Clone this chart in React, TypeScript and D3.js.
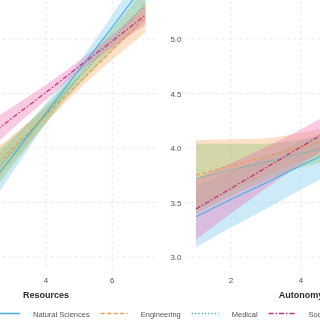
import React, { useRef, useEffect } from "react";
import * as d3 from "d3";

// predictor values the fits are evaluated at (1-7 scale)
const xValues = [1, 2, 3, 4, 5, 6, 7];

const groups = ["Natural Sciences", "Engineering", "Medical", "Social Sciences"];

// fitted outcome by group, Resources panel
const resourcesFit: number[][] = [
  [3.14, 3.54, 3.93, 4.32, 4.72, 5.11, 5.51],
  [3.40, 3.70, 4.00, 4.30, 4.60, 4.90, 5.20],
  [3.30, 3.64, 3.97, 4.31, 4.65, 4.99, 5.32],
  [3.81, 4.04, 4.28, 4.51, 4.75, 4.98, 5.22],
];
// half width of the confidence band, Resources panel
const resourcesCI: number[][] = [
  [0.30, 0.22, 0.15, 0.09, 0.07, 0.11, 0.18],
  [0.25, 0.18, 0.12, 0.07, 0.06, 0.09, 0.14],
  [0.28, 0.20, 0.13, 0.08, 0.07, 0.10, 0.15],
  [0.20, 0.15, 0.10, 0.07, 0.05, 0.06, 0.09],
];

// fitted outcome by group, Autonomy panel
const autonomyFit: number[][] = [
  [3.37, 3.53, 3.68, 3.84, 3.99, 4.15, 4.30],
  [3.75, 3.84, 3.92, 4.01, 4.09, 4.18, 4.26],
  [3.72, 3.80, 3.87, 3.95, 4.02, 4.10, 4.17],
  [3.44, 3.63, 3.82, 4.01, 4.20, 4.39, 4.58],
];
const autonomyCI: number[][] = [
  [0.28, 0.26, 0.24, 0.22, 0.21, 0.21, 0.22],
  [0.32, 0.24, 0.17, 0.13, 0.12, 0.14, 0.18],
  [0.32, 0.24, 0.17, 0.13, 0.12, 0.14, 0.18],
  [0.28, 0.23, 0.19, 0.16, 0.15, 0.16, 0.19],
];

const yTicks = [3.0, 3.5, 4.0, 4.5, 5.0];
const xTicks = [2, 4, 6];

const lineColors = ["#4fb3de", "#ee9a52", "#3dbb9a", "#c2306e"];
const bandColors = ["#6cc4ec", "#f7a860", "#86c46e", "#ee6aae"];
const dashes = ["none", "4,2.5", "1.3,2", "5,2,1.5,2"];

const FONT = "'Liberation Sans', Arial, sans-serif";

const App: React.FC = () => {
  const svgRef = useRef<SVGSVGElement | null>(null);

  const width = 320;
  const height = 320;

  useEffect(() => {
    if (!svgRef.current) return;
    const svg = d3.select(svgRef.current);
    svg.selectAll("*").remove();

    svg.append("rect").attr("width", width).attr("height", height).attr("fill", "#fff");

    const yScale = d3.scaleLinear().domain([3, 5]).range([257, 39]);

    const panels = [
      {
        title: "Resources",
        fit: resourcesFit,
        ci: resourcesCI,
        x: d3.scaleLinear().domain([0.7, 7.3]).range([-63.4, 155.4]),
        yLabels: false,
      },
      {
        title: "Autonomy",
        fit: autonomyFit,
        ci: autonomyCI,
        x: d3.scaleLinear().domain([0.7, 7.3]).range([185.5, 416.5]),
        yLabels: true,
      },
    ];

    panels.forEach((p) => {
      const [x0, x1] = p.x.range();
      const g = svg.append("g");

      // dashed grid
      g.selectAll(".hgrid").data(yTicks).enter().append("line")
        .attr("x1", x0).attr("x2", x1)
        .attr("y1", (d) => yScale(d)).attr("y2", (d) => yScale(d))
        .attr("stroke", "#e3e3e3").attr("stroke-width", 0.8)
        .attr("stroke-dasharray", "3,3");
      g.selectAll(".vgrid").data(xTicks).enter().append("line")
        .attr("x1", (d) => p.x(d)).attr("x2", (d) => p.x(d))
        .attr("y1", -5).attr("y2", 268)
        .attr("stroke", "#e3e3e3").attr("stroke-width", 0.8)
        .attr("stroke-dasharray", "3,3");

      // confidence bands
      p.fit.forEach((fit, i) => {
        const area = d3.area<number>()
          .x((_, j) => p.x(xValues[j]))
          .y0((d, j) => yScale(d - p.ci[i][j]))
          .y1((d, j) => yScale(d + p.ci[i][j]))
          .curve(d3.curveMonotoneX);
        g.append("path")
          .attr("d", area(fit))
          .attr("fill", bandColors[i])
          .attr("fill-opacity", 0.35);
      });

      // fitted lines
      p.fit.forEach((fit, i) => {
        const line = d3.line<number>()
          .x((_, j) => p.x(xValues[j]))
          .y((d) => yScale(d));
        g.append("path")
          .attr("d", line(fit))
          .attr("fill", "none")
          .attr("stroke", lineColors[i])
          .attr("stroke-width", 1.2)
          .attr("stroke-dasharray", dashes[i]);
      });

      // x tick labels
      g.selectAll(".xlab").data(xTicks).enter().append("text")
        .attr("x", (d) => p.x(d)).attr("y", 283)
        .attr("text-anchor", "middle")
        .attr("font-family", FONT).attr("font-size", 8)
        .attr("fill", "#555")
        .text((d) => d);

      if (p.yLabels) {
        g.selectAll(".ylab").data(yTicks).enter().append("text")
          .attr("x", x0 - 4).attr("y", (d) => yScale(d) + 3)
          .attr("text-anchor", "end")
          .attr("font-family", FONT).attr("font-size", 8)
          .attr("fill", "#555")
          .text((d) => d3.format(".1f")(d));
      }

      g.append("text")
        .attr("x", (x0 + x1) / 2).attr("y", 297.5)
        .attr("text-anchor", "middle")
        .attr("font-family", FONT).attr("font-size", 9)
        .attr("font-weight", "bold")
        .attr("fill", "#2b2b2b")
        .text(p.title);
    });

    // legend along the bottom
    const legend = svg.append("g").attr("transform", "translate(0,313.5)");
    let cursor = -7;
    groups.forEach((name, i) => {
      legend.append("line")
        .attr("x1", cursor).attr("x2", cursor + 27)
        .attr("y1", 0).attr("y2", 0)
        .attr("stroke", lineColors[i])
        .attr("stroke-width", 1.6)
        .attr("stroke-dasharray", dashes[i]);
      const t = legend.append("text")
        .attr("x", cursor + 40).attr("y", 3)
        .attr("font-family", FONT).attr("font-size", 7.5)
        .attr("fill", "#555")
        .text(name);
      const w = (t.node() as SVGTextElement).getComputedTextLength();
      cursor += 40 + w + 11;
    });
  }, []);

  return (
    <svg
      ref={svgRef}
      width={width}
      height={height}
      style={{ position: "absolute", left: 0, top: 0, display: "block", willChange: "transform" }}
    />
  );
};

export default App;
